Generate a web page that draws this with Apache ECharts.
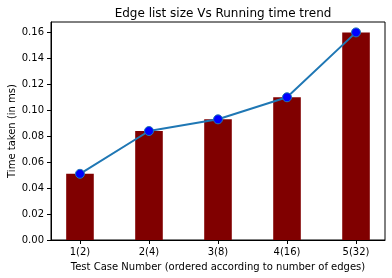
<!DOCTYPE html>
<html><head><meta charset="utf-8">
<script src="https://cdn.jsdelivr.net/npm/echarts@6/dist/echarts.min.js"></script>
<style>html,body{margin:0;padding:0;background:#fff}#c{width:392px;height:278px}</style>
</head><body><div id="c"></div>
<script>
var categories = ['1(2)', '2(4)', '3(8)', '4(16)', '5(32)'];
var times = [0.051, 0.084, 0.093, 0.110, 0.160];
var yTicks = [0, 0.02, 0.04, 0.06, 0.08, 0.10, 0.12, 0.14, 0.16];

var positions = categories.map(function (c, i) { return i; });
var barData = times.map(function (v, i) { return [positions[i], v]; });
var lineData = times.map(function (v, i) { return [positions[i], v]; });

var font = 'DejaVu Sans';
var chart = echarts.init(document.getElementById('c'));
chart.setOption({
  animation: false,
  title: {
    text: 'Edge list size Vs Running time trend',
    left: 218, top: 3, textAlign: 'center',
    textStyle: { fontFamily: font, fontSize: 12, fontWeight: 'normal', color: '#000' }
  },
  grid: { left: 51, top: 22, right: 7, bottom: 38, containLabel: false, outerBoundsMode: 'none',
    show: true, borderColor: '#000', borderWidth: 1, backgroundColor: 'transparent' },
  xAxis: {
    type: 'value', min: -0.42, max: 4.42,
    name: 'Test Case Number (ordered according to number of edges)',
    nameLocation: 'middle', nameGap: 22, nameMoveOverlap: false,
    nameTextStyle: { fontFamily: font, fontSize: 10, color: '#000' },
    axisLine: { show: true, onZero: false, lineStyle: { color: '#000', width: 1 } },
    axisTick: { show: true, length: 4, lineStyle: { color: '#000' }, customValues: positions },
    axisLabel: { fontFamily: font, fontSize: 10, color: '#000', margin: 7, customValues: positions,
      formatter: function (v) { return categories[Math.round(v)]; } },
    splitLine: { show: false }
  },
  yAxis: {
    type: 'value', min: 0, max: 0.168,
    name: 'Time taken (in ms)', nameLocation: 'middle', nameGap: 34, nameMoveOverlap: false,
    nameTextStyle: { fontFamily: font, fontSize: 10, color: '#000' },
    axisLine: { show: true, onZero: false, lineStyle: { color: '#000', width: 1 } },
    axisTick: { show: true, length: 4, lineStyle: { color: '#000' }, customValues: yTicks },
    axisLabel: { fontFamily: font, fontSize: 10, color: '#000', margin: 7, customValues: yTicks,
      formatter: function (v) { return v.toFixed(2); } },
    splitLine: { show: false }
  },
  series: [
    { type: 'bar', data: barData, barWidth: 27.6, itemStyle: { color: '#800000' }, z: 2 },
    { type: 'line', data: lineData, lineStyle: { color: '#1f77b4', width: 2 },
      symbol: 'circle', symbolSize: 9,
      itemStyle: { color: '#0000ff', borderColor: '#1f77b4', borderWidth: 1 }, z: 3 }
  ]
});
</script></body></html>
